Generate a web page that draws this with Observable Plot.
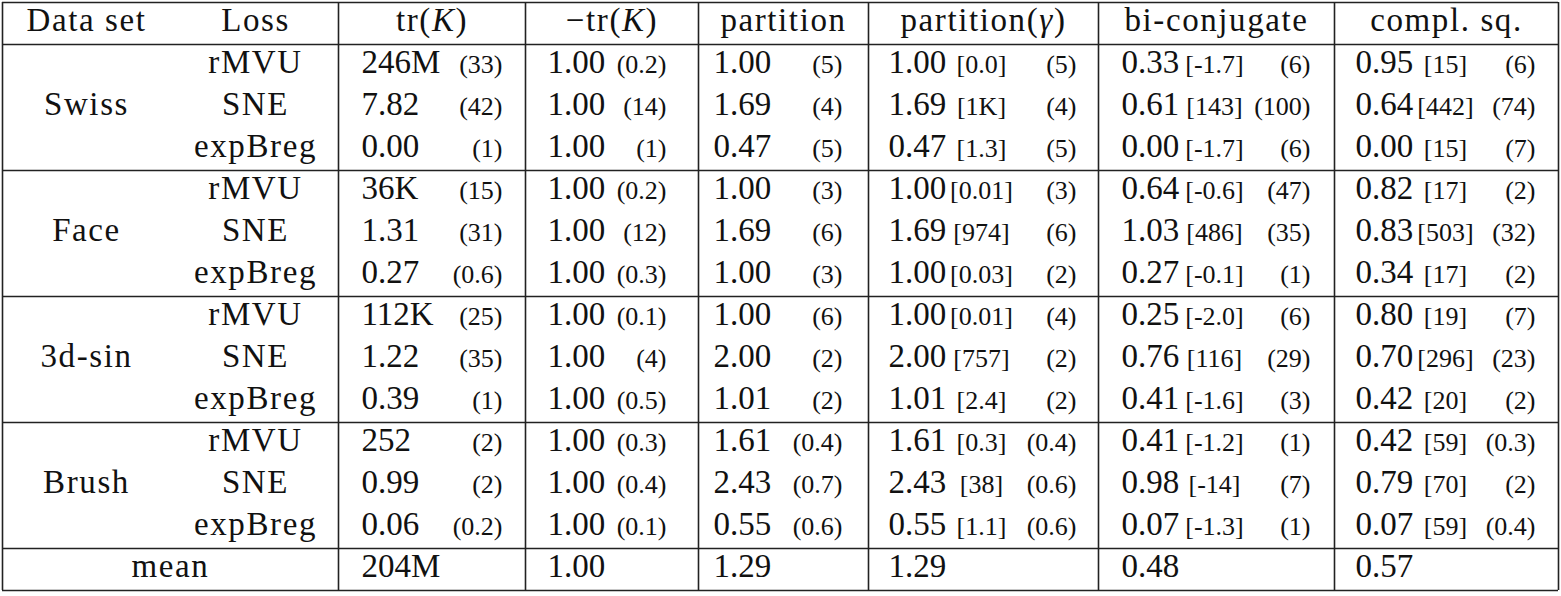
<!DOCTYPE html>
<html><head><meta charset="utf-8">
<script src="https://cdn.jsdelivr.net/npm/d3@7"></script>
<script src="https://cdn.jsdelivr.net/npm/@observablehq/plot@0.6"></script>
<style>html,body{margin:0;padding:0;background:#fff} svg{display:block}</style>
</head><body><div id="chart"></div>
<script>
// ---------- data ----------
const datasets = ["Swiss", "Face", "3d-sin", "Brush"];
const losses = ["rMVU", "SNE", "expBreg"];
const headers = ["tr(K)", "−tr(K)", "partition", "partition(γ)", "bi-conjugate", "compl. sq."];

const trK      = ["246M", "7.82", "0.00", "36K", "1.31", "0.27", "112K", "1.22", "0.39", "252", "0.99", "0.06"];
const trKSd    = ["33", "42", "1", "15", "31", "0.6", "25", "35", "1", "2", "2", "0.2"];
const negTrK   = ["1.00", "1.00", "1.00", "1.00", "1.00", "1.00", "1.00", "1.00", "1.00", "1.00", "1.00", "1.00"];
const negTrKSd = ["0.2", "14", "1", "0.2", "12", "0.3", "0.1", "4", "0.5", "0.3", "0.4", "0.1"];
const partition   = ["1.00", "1.69", "0.47", "1.00", "1.69", "1.00", "1.00", "2.00", "1.01", "1.61", "2.43", "0.55"];
const partitionSd = ["5", "4", "5", "3", "6", "3", "6", "2", "2", "0.4", "0.7", "0.6"];
const partGamma    = ["1.00", "1.69", "0.47", "1.00", "1.69", "1.00", "1.00", "2.00", "1.01", "1.61", "2.43", "0.55"];
const partGammaAux = ["0.0", "1K", "1.3", "0.01", "974", "0.03", "0.01", "757", "2.4", "0.3", "38", "1.1"];
const partGammaSd  = ["5", "4", "5", "3", "6", "2", "4", "2", "2", "0.4", "0.6", "0.6"];
const biConj    = ["0.33", "0.61", "0.00", "0.64", "1.03", "0.27", "0.25", "0.76", "0.41", "0.41", "0.98", "0.07"];
const biConjAux = ["-1.7", "143", "-1.7", "-0.6", "486", "-0.1", "-2.0", "116", "-1.6", "-1.2", "-14", "-1.3"];
const biConjSd  = ["6", "100", "6", "47", "35", "1", "6", "29", "3", "1", "7", "1"];
const complSq    = ["0.95", "0.64", "0.00", "0.82", "0.83", "0.34", "0.80", "0.70", "0.42", "0.42", "0.79", "0.07"];
const complSqAux = ["15", "442", "15", "17", "503", "17", "19", "296", "20", "59", "70", "59"];
const complSqSd  = ["6", "74", "7", "2", "32", "2", "7", "23", "2", "0.3", "2", "0.4"];
const means = ["204M", "1.00", "1.29", "1.29", "0.48", "0.57"];

// ---------- layout (table geometry, in x-scale units) ----------
const W = 1561, H = 596;
const colEdges = [2, 338, 525, 698, 868, 1098, 1334, 1558];
const datasetX = 86, lossX = 255, meanLabelX = 170;
const colLayout = [
  {main: 361,  paren: 502},
  {main: 547,  paren: 666},
  {main: 713,  paren: 842},
  {main: 888,  aux: 981,  paren: 1076},
  {main: 1121, aux: 1214, paren: 1310},
  {main: 1355, aux: 1445, paren: 1535}
];
const nRows = 14; // header + 12 + mean
const groupLines = [0, 1, 4, 7, 10, 13, 14];

const columns = [
  {main: trK, sd: trKSd},
  {main: negTrK, sd: negTrKSd},
  {main: partition, sd: partitionSd},
  {main: partGamma, aux: partGammaAux, sd: partGammaSd},
  {main: biConj, aux: biConjAux, sd: biConjSd},
  {main: complSq, aux: complSqAux, sd: complSqSd}
];

const cells = [];
columns.forEach((c, j) => {
  c.main.forEach((v, i) => {
    cells.push({col: j, row: i + 1, main: v, aux: c.aux ? c.aux[i] : null, sd: c.sd[i]});
  });
});
const lossRows = [];
datasets.forEach((ds, g) => losses.forEach((l, k) => lossRows.push({row: 1 + g * 3 + k, loss: l})));

const FONT = "'Liberation Serif', 'Times New Roman', serif";
const INK = "#111";
const mainSize = 33, smallSize = 26;
const dy = -3;
const dySmall = dy + 0.32 * (mainSize - smallSize); // share the baseline with the main text
const T = {fontFamily: FONT, fill: INK};

const plot = Plot.plot({
  width: W, height: H,
  margin: 0,
  style: {fontFamily: FONT, color: INK, background: "#fff"},
  x: {domain: [0, W], range: [0, W], axis: null},
  y: {domain: [0, nRows], range: [2, 590], axis: null},
  marks: [
    Plot.ruleY(groupLines, {y: d => d, x1: colEdges[0], x2: colEdges[colEdges.length - 1], stroke: "#222", strokeWidth: 1.6}),
    Plot.ruleX(colEdges, {x: d => d, y1: 0, y2: nRows, stroke: "#222", strokeWidth: 1.6}),
    // header
    Plot.text(["Data set", "Loss"], {...T, x: (d, i) => i === 0 ? datasetX : lossX, y: 0.5, text: d => d, fontSize: mainSize, dy}),
    Plot.text(headers, {...T, x: (d, j) => (colEdges[j + 1] + colEdges[j + 2]) / 2, y: 0.5, text: d => d, fontSize: mainSize, dy}),
    // dataset labels
    Plot.text(datasets, {...T, x: datasetX, y: (d, g) => 1 + g * 3 + 1.5, text: d => d, fontSize: mainSize, dy}),
    // loss labels
    Plot.text(lossRows, {...T, x: lossX, y: d => d.row + 0.5, text: "loss", fontSize: mainSize, dy}),
    // main values
    Plot.text(cells, {...T, x: d => colLayout[d.col].main, y: d => d.row + 0.5, text: "main", textAnchor: "start", fontSize: mainSize, dy}),
    // bracket values
    Plot.text(cells.filter(d => d.aux !== null), {...T, x: d => colLayout[d.col].aux, y: d => d.row + 0.5, text: d => `[${d.aux}]`, textAnchor: "middle", fontSize: smallSize, dy: dySmall}),
    // paren values
    Plot.text(cells, {...T, x: d => colLayout[d.col].paren, y: d => d.row + 0.5, text: d => `(${d.sd})`, textAnchor: "end", fontSize: smallSize, dy: dySmall}),
    // mean row
    Plot.text(["mean"], {...T, x: meanLabelX, y: 13.5, text: d => d, fontSize: mainSize, dy}),
    Plot.text(means, {...T, x: (d, j) => colLayout[j].main, y: 13.5, text: d => d, textAnchor: "start", fontSize: mainSize, dy})
  ]
});

// word labels: slightly wider tracking (closer to the Computer Modern look); italic math symbols
const words = new Set([...headers, ...datasets, ...losses, "Data set", "Loss", "mean"]);
plot.querySelectorAll("text").forEach(t => {
  const s = t.textContent;
  if (words.has(s)) t.style.letterSpacing = "1.6px";
  if (s === "tr(K)" || s === "−tr(K)") t.innerHTML = s.replace("K", '<tspan font-style="italic">K</tspan>');
  else if (s === "partition(γ)") t.innerHTML = 'partition(<tspan font-style="italic">γ</tspan>)';
});

document.getElementById("chart").appendChild(plot);
</script>
</body></html>
